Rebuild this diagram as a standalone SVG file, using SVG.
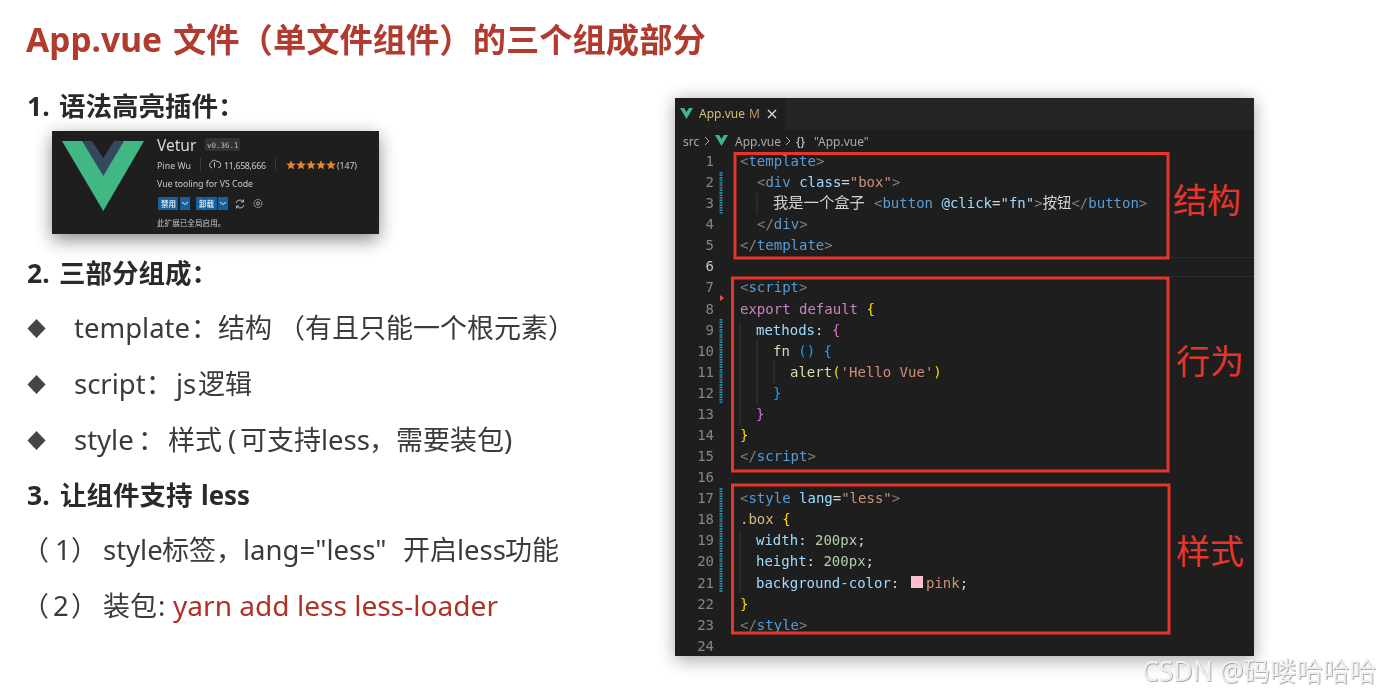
<svg xmlns="http://www.w3.org/2000/svg" width="1380" height="695" viewBox="0 0 1380 695" lang="zh-CN">
<style>
text{font-family:"Noto Sans","Noto Sans CJK SC",sans-serif}
.s{fill:#3a3a3a;font-size:27px}
.e{fill:#3a3a3a;font-size:27.5px}
.h{fill:#2b2b2b;font-weight:700;font-size:26.5px}
.red{fill:#b03025;font-size:28px}
.ti{fill:#b03a2e;font-weight:700;font-size:33.3px}
text.m{font-family:"DejaVu Sans Mono","Noto Sans CJK SC",monospace;font-size:14px;fill:#d4d4d4;white-space:pre}
text.n{text-anchor:end;fill:#858585}
.g{fill:#808080}.t{fill:#569cd6}.a{fill:#9cdcfe}.v{fill:#ce9178}.k{fill:#c586c0}.y{fill:#ffd700}.f{fill:#dcdcaa}.u{fill:#179fff}.p{fill:#d7ba7d}.w{fill:#b5cea8}.d{fill:#da70d6}
.r{fill:none;stroke:#e8352b;stroke-width:3}
text.l{font-family:"Noto Sans CJK SC",sans-serif;font-size:34px;fill:#e8352b}
.i{stroke:#3a3a3a;stroke-width:1}
.q{fill:#15609e}
.c9{font-size:8.8px;fill:#c8c8c8}
.bc{font-size:12px;fill:#a9a9a9}
</style>
<defs>
<filter id="sh" x="-10%" y="-20%" width="120%" height="140%"><feGaussianBlur stdDeviation="9"/></filter>
<filter id="wm" x="-5%" y="-20%" width="110%" height="140%"><feDropShadow dx="0.8" dy="0.8" stdDeviation="0.5" flood-color="#9a9a9a"/></filter>
<filter id="sft"><feGaussianBlur stdDeviation="0.35"/></filter>
<path id="star" d="M0-4.800 1.400-1.500 4.800-1.300 2.200.8 3 4.200 0 2.400-3 4.200-2.200.8-4.800-1.300-1.400-1.500Z" fill="#e8862e"/>
</defs>
<rect width="1380" height="695" fill="#ffffff"/>

<g id="title" filter="url(#sft)"><text class="ti" x="26" y="52" textLength="136" lengthAdjust="spacingAndGlyphs">App.vue</text><text class="ti" x="173" y="52">文件（单文件组件）的三个组成部分</text></g>

<g id="left-text" filter="url(#sft)">
<text class="h" x="27" y="116">1.</text><text class="h" x="59" y="116">语法高亮插件：</text>
<text class="h" x="27" y="283">2.</text><text class="h" x="59" y="283">三部分组成：</text>
<path d="M36.500 319l9 9.500-9 9.500-9-9.500ZM36.500 375l9 9.500-9 9.500-9-9.500ZM36.500 431l9 9.500-9 9.500-9-9.500Z" fill="#444"/>
<text class="e" x="74" y="338">template</text><text class="s" x="191" y="338">：结构</text><text class="s" x="278" y="338">（有且只能一个根元素）</text>
<text class="e" x="74" y="394">script：</text><text class="e" x="176" y="394">js<tspan class="s" x="198">逻辑</tspan></text>
<text class="e" x="74" y="450">style</text><text class="s" x="138" y="450">：<tspan x="168">样式</tspan></text><text class="e" x="228" y="450">(</text><text class="s" x="240" y="450">可支持</text><text class="e" x="321" y="450">less</text><text class="s" x="369" y="450">，<tspan x="396">需要装包</tspan></text><text class="e" x="504" y="450">)</text>
<text class="h" x="27" y="505">3.</text><text class="h" x="60" y="505">让组件支持</text><text class="h" x="201" y="505" textLength="49" lengthAdjust="spacingAndGlyphs">less</text>
<text class="s" x="22" y="560">（<tspan class="e" x="55">1</tspan><tspan x="71">）</tspan></text><text class="e" x="103" y="560">style</text><text class="s" x="162" y="560">标签，</text><text class="e" x="243" y="560">lang="less"</text><text class="s" x="403" y="560">开启</text><text class="e" x="457" y="560">less</text><text class="s" x="505" y="560">功能</text>
<text class="s" x="22" y="616">（<tspan class="e" x="53">2</tspan><tspan x="71">）</tspan></text><text class="s" x="103" y="616">装包</text><text class="e" x="158" y="616">:</text><text class="red" x="173" y="616" textLength="325" lengthAdjust="spacingAndGlyphs">yarn add less less-loader</text>
</g>

<g id="vetur-card">
<rect x="52" y="136" width="327" height="104" fill="#000" opacity=".45" filter="url(#sh)"/>
<rect x="52" y="131" width="327" height="103" fill="#1e1e1e"/>
<path d="M62 141H144L103.300 211Z" fill="#41b883"/>
<path d="M82 141H124L103.300 176Z" fill="#35495e"/>
<path d="M92 141H114L103.300 158Z" fill="#1e1e1e"/>
<g filter="url(#sft)">
<text x="157" y="151" font-size="15.500" fill="#d8d8d8">Vetur</text>
<rect x="205" y="138" width="35" height="13" rx="2" fill="#333"/>
<text x="207" y="148" font-size="7.500" fill="#bbb" style="font-family:'DejaVu Sans Mono',monospace">v0.36.1</text>
<text class="c9" x="157" y="169" textLength="34">Pine Wu</text>
<path class="i" d="M200.500 158v13M275.500 158v13"/>
<path d="M212 168a3 3 0 0 1-1-5.500a3.500 3.500 0 0 1 6-1a2.500 2.500 0 0 1 1 6.500M214.500 162v5.500" fill="none" stroke="#bbb" stroke-width="1"/>
<text class="c9" x="224" y="169" textLength="42">11,658,666</text>
<use href="#star" x="291" y="165"/><use href="#star" x="301" y="165"/><use href="#star" x="311" y="165"/><use href="#star" x="321" y="165"/><use href="#star" x="331" y="165"/>
<text class="c9" x="337" y="169" textLength="20">(147)</text>
<text class="c9" x="157" y="187" textLength="96">Vue tooling for VS Code</text>
<rect class="q" x="158" y="197" width="20" height="13"/><rect class="q" x="180" y="197" width="10" height="13"/>
<rect class="q" x="196" y="197" width="21" height="13"/><rect class="q" x="218" y="197" width="10" height="13"/>
<text x="161" y="207" font-size="7.500" font-weight="700" fill="#cfe0ee">禁用</text>
<text x="199" y="207" font-size="7.500" font-weight="700" fill="#cfe0ee">卸载</text>
<path d="M182 202l3 2.500 3-2.500M220 202l3 2.500 3-2.500" fill="none" stroke="#e8e8e8" stroke-width="1"/>
<path d="M236 203a4 4 0 0 1 7-1.500M244 205a4 4 0 0 1-7 1.500M243.500 199.500v2.500h-2.500M236.500 208.500v-2.500h2.500" fill="none" stroke="#bbb"/>
<circle cx="258" cy="203.500" r="4" fill="none" stroke="#bbb" stroke-dasharray="2 .8"/><circle cx="258" cy="203.500" r="1.500" fill="none" stroke="#bbb"/>
<text x="157" y="226" font-size="7.600" fill="#c4c4c4">此扩展已全局启用。</text>
</g>
</g>

<g id="editor">
<rect x="675" y="100" width="579" height="560" fill="#000" opacity=".35" filter="url(#sh)"/>
<rect x="675" y="98" width="579" height="558" fill="#1e1e1e"/>
<rect x="785" y="98" width="469" height="32" fill="#252526"/>
<path d="M680 108H693L686.500 119Z" fill="#41b883"/><path d="M684 108H689L686.500 112Z" fill="#1e1e1e"/>
<g filter="url(#sft)">
<text x="699" y="118" font-size="12" fill="#d7ba7d">App.vue</text>
<text x="749" y="118" font-size="12" fill="#b89a5e">M</text>
<path d="M768 110l8 8M776 110l-8 8" stroke="#d8d8d8" stroke-width="1.400"/>
<text class="bc" x="683" y="146">src</text>
<path d="M705 137l4 4-4 4M786 137l4 4-4 4" fill="none" stroke="#a9a9a9"/>
<path d="M715 135H728L721.500 146Z" fill="#41b883"/><path d="M719 135H724L721.500 139Z" fill="#1e1e1e"/>
<text class="bc" x="735" y="146">App.vue</text>
<text class="bc" x="796" y="146" style="fill:#d4d4d4">{}</text>
<text class="bc" x="814" y="146">"App.vue"</text>
</g>
<path d="M1170 257.500H1254M1170 276.500H1254" stroke="#2c2c2c"/>
<path d="M721 172V214M721 319V403M721 488V593" stroke="#2f8fb0" stroke-width="3" stroke-dasharray="1.500 1"/>
<path d="M720 295l4 3-4 3Z" fill="#e5533c"/>
<path d="M757 193V214M740 322V425M757 340V404M774 361V383M740 531V593" stroke="#383838"/>
<g id="line-numbers" filter="url(#sft)">
<text class="m n" x="714" y="166">1</text><text class="m n" x="714" y="187">2</text><text class="m n" x="714" y="208">3</text><text class="m n" x="714" y="229">4</text><text class="m n" x="714" y="250">5</text><text class="m n" x="714" y="271" style="fill:#c6c6c6">6</text><text class="m n" x="714" y="292">7</text><text class="m n" x="714" y="314">8</text><text class="m n" x="714" y="335">9</text><text class="m n" x="714" y="356">10</text><text class="m n" x="714" y="377">11</text><text class="m n" x="714" y="398">12</text><text class="m n" x="714" y="419">13</text><text class="m n" x="714" y="440">14</text><text class="m n" x="714" y="461">15</text><text class="m n" x="714" y="482">16</text><text class="m n" x="714" y="503">17</text><text class="m n" x="714" y="524">18</text><text class="m n" x="714" y="545">19</text><text class="m n" x="714" y="566">20</text><text class="m n" x="714" y="588">21</text><text class="m n" x="714" y="609">22</text><text class="m n" x="714" y="630">23</text><text class="m n" x="714" y="651">24</text>
</g>
<g id="code" filter="url(#sft)">
<text class="m" x="740" y="166" xml:space="preserve"><tspan class="g">&lt;</tspan><tspan class="t">template</tspan><tspan class="g">&gt;</tspan></text>
<text class="m" x="757" y="187" xml:space="preserve"><tspan class="g">&lt;</tspan><tspan class="t">div</tspan> <tspan class="a">class</tspan>=<tspan class="v">"box"</tspan><tspan class="g">&gt;</tspan></text>
<text class="m" x="773" y="208" xml:space="preserve" style="font-size:15.3px">我是一个盒子</text>
<text class="m" x="874" y="208" xml:space="preserve"><tspan class="g">&lt;</tspan><tspan class="t">button</tspan> <tspan class="a">@click</tspan>=<tspan class="a">"fn"</tspan><tspan class="g">&gt;</tspan><tspan style="font-size:14.4px">按钮</tspan><tspan class="g">&lt;/</tspan><tspan class="t">button</tspan><tspan class="g">&gt;</tspan></text>
<text class="m" x="757" y="229" xml:space="preserve"><tspan class="g">&lt;/</tspan><tspan class="t">div</tspan><tspan class="g">&gt;</tspan></text>
<text class="m" x="740" y="250" xml:space="preserve"><tspan class="g">&lt;/</tspan><tspan class="t">template</tspan><tspan class="g">&gt;</tspan></text>
<text class="m" x="740" y="292" xml:space="preserve"><tspan class="g">&lt;</tspan><tspan class="t">script</tspan><tspan class="g">&gt;</tspan></text>
<text class="m" x="740" y="314" xml:space="preserve"><tspan class="k">export default</tspan> <tspan class="y">{</tspan></text>
<text class="m" x="756" y="335" xml:space="preserve"><tspan class="a">methods</tspan>: <tspan class="d">{</tspan></text>
<text class="m" x="773" y="356" xml:space="preserve"><tspan class="f">fn</tspan> <tspan class="u">()</tspan> <tspan class="u">{</tspan></text>
<text class="m" x="790" y="377" xml:space="preserve"><tspan class="f">alert</tspan><tspan class="y">(</tspan><tspan class="v">'Hello Vue'</tspan><tspan class="y">)</tspan></text>
<text class="m" x="773" y="398" xml:space="preserve"><tspan class="u">}</tspan></text>
<text class="m" x="756" y="419" xml:space="preserve"><tspan class="d">}</tspan></text>
<text class="m" x="740" y="440" xml:space="preserve"><tspan class="y">}</tspan></text>
<text class="m" x="740" y="461" xml:space="preserve"><tspan class="g">&lt;/</tspan><tspan class="t">script</tspan><tspan class="g">&gt;</tspan></text>
<text class="m" x="740" y="503" xml:space="preserve"><tspan class="g">&lt;</tspan><tspan class="t">style</tspan> <tspan class="a">lang</tspan>=<tspan class="v">"less"</tspan><tspan class="g">&gt;</tspan></text>
<text class="m" x="740" y="524" xml:space="preserve"><tspan class="p">.box</tspan> <tspan class="y">{</tspan></text>
<text class="m" x="756" y="545" xml:space="preserve"><tspan class="a">width</tspan>: <tspan class="w">200px</tspan>;</text>
<text class="m" x="756" y="566" xml:space="preserve"><tspan class="a">height</tspan>: <tspan class="w">200px</tspan>;</text>
<text class="m" x="756" y="588" xml:space="preserve"><tspan class="a">background-color</tspan>:</text>
<rect x="911" y="576" width="12" height="12" fill="#ffc0cb"/>
<text class="m" x="926" y="588" xml:space="preserve"><tspan class="v">pink</tspan>;</text>
<text class="m" x="740" y="609" xml:space="preserve"><tspan class="y">}</tspan></text>
<text class="m" x="740" y="630" xml:space="preserve"><tspan class="g">&lt;/</tspan><tspan class="t">style</tspan><tspan class="g">&gt;</tspan></text>
</g>
</g>

<g id="structure"><rect class="r" x="735" y="153.500" width="433" height="104.500"/><text class="l" x="1173" y="213">结构</text></g>
<g id="behavior"><rect class="r" x="732.500" y="278" width="435.500" height="193"/><text class="l" x="1176" y="374">行为</text></g>
<g id="style-block"><rect class="r" x="732.500" y="485" width="436.500" height="148"/><text class="l" x="1176" y="564">样式</text></g>

<g id="watermark" filter="url(#wm)"><text x="1142" y="681" font-size="26.5" style="fill:#efefef">CSDN @码喽哈哈哈</text></g>
</svg>
